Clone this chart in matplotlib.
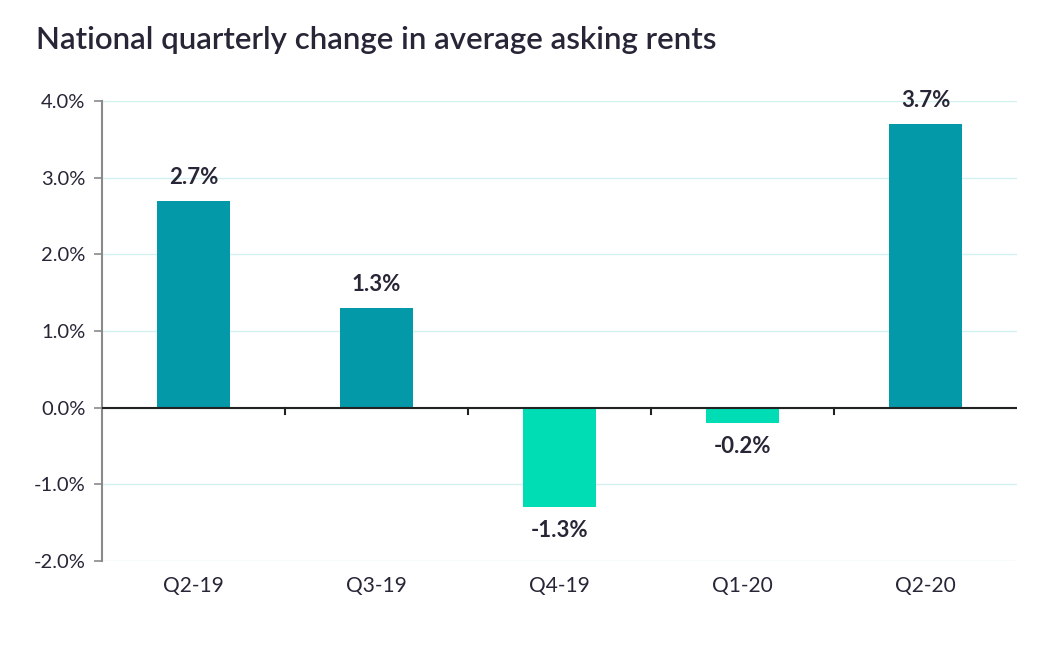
import matplotlib
matplotlib.use("Agg")
import matplotlib.pyplot as plt
from matplotlib.ticker import FuncFormatter

categories = ["Q2-19", "Q3-19", "Q4-19", "Q1-20", "Q2-20"]
values = [2.7, 1.3, -1.3, -0.2, 3.7]
labels = ["2.7%", "1.3%", "-1.3%", "-0.2%", "3.7%"]
title = "National quarterly change in average asking rents"

POS = "#0399A8"
NEG = "#00DDB5"
TXT = "#262637"
plt.rcParams['font.family'] = ['Lato', 'DejaVu Sans']

fig = plt.figure(figsize=(10.5, 6.54), dpi=100)
ax = fig.add_axes([102/1050, 1-561/654, (1017-102)/1050, (561-101)/654])

x = list(range(len(categories)))
colors = [POS if v >= 0 else NEG for v in values]
ax.bar(x, values, width=0.4, color=colors, zorder=3)

ax.set_xlim(-0.5, len(categories)-0.5)
ax.set_ylim(-2, 4)
ax.set_yticks([-2, -1, 0, 1, 2, 3, 4])
ax.yaxis.set_major_formatter(FuncFormatter(lambda v, p: f"{v:.1f}%"))
ax.grid(axis='y', color='#D3F1EE', linewidth=1, zorder=0)
ax.set_axisbelow(True)

for s in ['top', 'right', 'bottom']:
    ax.spines[s].set_visible(False)
ax.spines['left'].set_color('#8a8a8a')
ax.spines['left'].set_linewidth(1.5)
ax.axhline(0, color='#222222', linewidth=1.5, zorder=4)

ax.tick_params(axis='y', length=6, color='#8a8a8a', width=1.2, labelsize=14.5, labelcolor=TXT, pad=6)
ax.set_xticks(x)
ax.set_xticklabels(categories)
ax.tick_params(axis='x', length=0, labelsize=15, labelcolor=TXT, pad=11)

# category boundary ticks along zero line
for b in [0.5, 1.5, 2.5, 3.5]:
    ax.plot([b, b], [0, -0.08], color='#222222', linewidth=1.5, zorder=4, clip_on=False)

for xi, v, lab in zip(x, values, labels):
    if v >= 0:
        ax.text(xi, v + 0.17, lab, ha='center', va='bottom', fontsize=16, fontweight='bold', color=TXT)
    else:
        ax.text(xi, v - 0.17, lab, ha='center', va='top', fontsize=16, fontweight='bold', color=TXT)

fig.text(36/1050, 1-40/654, title, fontsize=22.5, fontweight='semibold', color=TXT, ha='left', va='center')

fig.savefig("out.png", dpi=100, facecolor='white')
